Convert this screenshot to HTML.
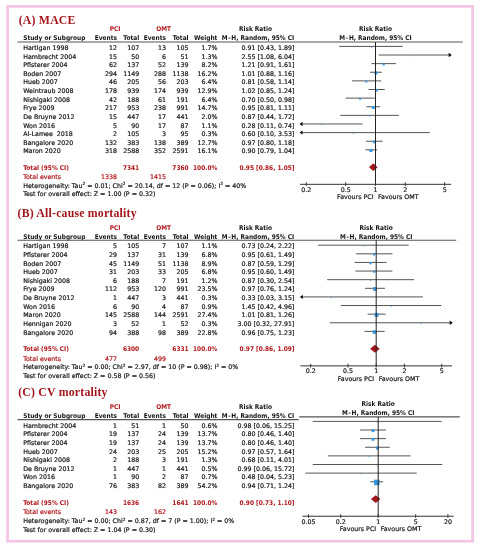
<!DOCTYPE html>
<html lang="en"><head><meta charset="utf-8"><title>Forest plots: PCI vs OMT</title>
<style>
html,body{margin:0;padding:0;background:#fff}
svg{display:block}
text{white-space:pre;fill:currentColor;color:#141414}
.r{font-family:"DejaVu Sans","Liberation Sans",sans-serif;font-size:6.3px;stroke:currentColor;stroke-width:0.2px}
.b{font-family:"DejaVu Sans Condensed","DejaVu Sans","Liberation Sans",sans-serif;font-weight:bold;font-size:6.5px}
.ttl{font-family:"Liberation Serif",serif;font-weight:bold;font-size:11.8px;letter-spacing:0.2px;fill:#a3161c}
.hl{stroke:#555;stroke-width:1.1}
.ci{stroke:#555;stroke-width:1}
.vl{stroke:#222;stroke-width:1}
.ax{stroke:#333;stroke-width:1}
</style></head><body>
<svg width="482" height="550" viewBox="0 0 482 550">
<rect x="0" y="0" width="482" height="550" fill="#fff"/>
<rect x="7.65" y="6.4" width="465" height="534.8" fill="none" stroke="#f2c6e4" stroke-width="2.8"/>
<text class="ttl" x="18.7" y="24.2">(A) MACE</text>
<text class="b" x="115.00" y="30.60" text-anchor="middle" style="color:#b0151b">PCI</text>
<text class="b" x="163.60" y="30.60" text-anchor="middle" style="color:#b0151b">OMT</text>
<text class="b" x="255.50" y="30.60" text-anchor="middle">Risk Ratio</text>
<text class="b" x="23.20" y="40.00">Study or Subgroup</text>
<text class="b" x="117.00" y="40.00" text-anchor="end">Events</text>
<text class="b" x="139.20" y="40.00" text-anchor="end">Total</text>
<text class="b" x="166.00" y="40.00" text-anchor="end">Events</text>
<text class="b" x="188.60" y="40.00" text-anchor="end">Total</text>
<text class="b" x="217.40" y="40.00" text-anchor="end">Weight</text>
<text class="b" x="294.20" y="40.00" text-anchor="end"><tspan letter-spacing="0.7">M-</tspan>H, Random, 95% CI</text>
<text class="b" x="375.50" y="30.60" text-anchor="middle">Risk Ratio</text>
<text class="b" x="375.50" y="40.00" text-anchor="middle"><tspan letter-spacing="0.7">M-</tspan>H, Random, 95% CI</text>
<line x1="17.5" y1="42.0" x2="462.7" y2="42.0" class="hl"/>
<text class="r" x="23.20" y="50.00">Hartigan 1998</text>
<text class="r" x="117.00" y="50.00" text-anchor="end">12</text>
<text class="r" x="139.20" y="50.00" text-anchor="end">107</text>
<text class="r" x="166.00" y="50.00" text-anchor="end">13</text>
<text class="r" x="188.60" y="50.00" text-anchor="end">105</text>
<text class="r" x="217.40" y="50.00" text-anchor="end">1.7%</text>
<text class="r" x="294.50" y="50.00" text-anchor="end">0.91 [0.43, 1.89]</text>
<line x1="339.21" y1="46.40" x2="402.87" y2="46.40" class="ci"/>
<rect x="370.94" y="46.60" width="1.00" height="1.00" fill="#3596e2"/>
<text class="r" x="23.20" y="58.62">Hambrecht 2004</text>
<text class="r" x="117.00" y="58.62" text-anchor="end">15</text>
<text class="r" x="139.20" y="58.62" text-anchor="end">50</text>
<text class="r" x="166.00" y="58.62" text-anchor="end">6</text>
<text class="r" x="188.60" y="58.62" text-anchor="end">51</text>
<text class="r" x="217.40" y="58.62" text-anchor="end">1.3%</text>
<text class="r" x="294.50" y="58.62" text-anchor="end">2.55 [1.08, 6.04]</text>
<line x1="378.81" y1="55.02" x2="451.10" y2="55.02" class="ci"/>
<path d="M451.70 55.02l-3 -2.2v4.4z" fill="#111"/>
<rect x="415.25" y="55.22" width="1.00" height="1.00" fill="#3596e2"/>
<text class="r" x="23.20" y="67.24">Pfisterer 2004</text>
<text class="r" x="117.00" y="67.24" text-anchor="end">62</text>
<text class="r" x="139.20" y="67.24" text-anchor="end">137</text>
<text class="r" x="166.00" y="67.24" text-anchor="end">52</text>
<text class="r" x="188.60" y="67.24" text-anchor="end">139</text>
<text class="r" x="217.40" y="67.24" text-anchor="end">8.2%</text>
<text class="r" x="294.50" y="67.24" text-anchor="end">1.21 [0.91, 1.61]</text>
<line x1="371.44" y1="63.64" x2="395.98" y2="63.64" class="ci"/>
<rect x="382.62" y="63.27" width="2.15" height="2.15" fill="#3596e2"/>
<text class="r" x="23.20" y="75.86">Boden 2007</text>
<text class="r" x="117.00" y="75.86" text-anchor="end">294</text>
<text class="r" x="139.20" y="75.86" text-anchor="end">1149</text>
<text class="r" x="166.00" y="75.86" text-anchor="end">288</text>
<text class="r" x="188.60" y="75.86" text-anchor="end">1138</text>
<text class="r" x="217.40" y="75.86" text-anchor="end">16.2%</text>
<text class="r" x="294.50" y="75.86" text-anchor="end">1.01 [0.88, 1.16]</text>
<line x1="370.00" y1="72.26" x2="381.88" y2="72.26" class="ci"/>
<rect x="374.42" y="71.45" width="3.02" height="3.02" fill="#3596e2"/>
<text class="r" x="23.20" y="84.48">Hueb 2007</text>
<text class="r" x="117.00" y="84.48" text-anchor="end">46</text>
<text class="r" x="139.20" y="84.48" text-anchor="end">205</text>
<text class="r" x="166.00" y="84.48" text-anchor="end">56</text>
<text class="r" x="188.60" y="84.48" text-anchor="end">203</text>
<text class="r" x="217.40" y="84.48" text-anchor="end">6.4%</text>
<text class="r" x="294.50" y="84.48" text-anchor="end">0.81 [0.58, 1.14]</text>
<line x1="352.08" y1="80.88" x2="381.13" y2="80.88" class="ci"/>
<rect x="365.49" y="80.63" width="1.90" height="1.90" fill="#3596e2"/>
<text class="r" x="23.20" y="93.10">Weintraub 2008</text>
<text class="r" x="117.00" y="93.10" text-anchor="end">178</text>
<text class="r" x="139.20" y="93.10" text-anchor="end">939</text>
<text class="r" x="166.00" y="93.10" text-anchor="end">174</text>
<text class="r" x="188.60" y="93.10" text-anchor="end">939</text>
<text class="r" x="217.40" y="93.10" text-anchor="end">12.9%</text>
<text class="r" x="294.50" y="93.10" text-anchor="end">1.02 [0.85, 1.24]</text>
<line x1="368.51" y1="89.50" x2="384.75" y2="89.50" class="ci"/>
<rect x="375.00" y="88.85" width="2.69" height="2.69" fill="#3596e2"/>
<text class="r" x="23.20" y="101.72">Nishigaki 2008</text>
<text class="r" x="117.00" y="101.72" text-anchor="end">42</text>
<text class="r" x="139.20" y="101.72" text-anchor="end">188</text>
<text class="r" x="166.00" y="101.72" text-anchor="end">61</text>
<text class="r" x="188.60" y="101.72" text-anchor="end">191</text>
<text class="r" x="217.40" y="101.72" text-anchor="end">6.4%</text>
<text class="r" x="294.50" y="101.72" text-anchor="end">0.70 [0.50, 0.98]</text>
<line x1="345.69" y1="98.12" x2="374.63" y2="98.12" class="ci"/>
<rect x="359.21" y="97.87" width="1.90" height="1.90" fill="#3596e2"/>
<text class="r" x="23.20" y="110.34">Frye 2009</text>
<text class="r" x="117.00" y="110.34" text-anchor="end">217</text>
<text class="r" x="139.20" y="110.34" text-anchor="end">953</text>
<text class="r" x="166.00" y="110.34" text-anchor="end">238</text>
<text class="r" x="188.60" y="110.34" text-anchor="end">991</text>
<text class="r" x="217.40" y="110.34" text-anchor="end">14.7%</text>
<text class="r" x="294.50" y="110.34" text-anchor="end">0.95 [0.81, 1.11]</text>
<line x1="366.44" y1="106.74" x2="379.99" y2="106.74" class="ci"/>
<rect x="371.86" y="106.00" width="2.88" height="2.88" fill="#3596e2"/>
<text class="r" x="23.20" y="118.96">De Bruyne 2012</text>
<text class="r" x="117.00" y="118.96" text-anchor="end">15</text>
<text class="r" x="139.20" y="118.96" text-anchor="end">447</text>
<text class="r" x="166.00" y="118.96" text-anchor="end">17</text>
<text class="r" x="188.60" y="118.96" text-anchor="end">441</text>
<text class="r" x="217.40" y="118.96" text-anchor="end">2.0%</text>
<text class="r" x="294.50" y="118.96" text-anchor="end">0.87 [0.44, 1.72]</text>
<line x1="340.20" y1="115.36" x2="398.82" y2="115.36" class="ci"/>
<rect x="368.98" y="115.53" width="1.06" height="1.06" fill="#3596e2"/>
<text class="r" x="23.20" y="127.58">Won 2016</text>
<text class="r" x="117.00" y="127.58" text-anchor="end">5</text>
<text class="r" x="139.20" y="127.58" text-anchor="end">90</text>
<text class="r" x="166.00" y="127.58" text-anchor="end">17</text>
<text class="r" x="188.60" y="127.58" text-anchor="end">87</text>
<text class="r" x="217.40" y="127.58" text-anchor="end">1.1%</text>
<text class="r" x="294.50" y="127.58" text-anchor="end">0.28 [0.11, 0.74]</text>
<line x1="300.00" y1="123.98" x2="362.55" y2="123.98" class="ci"/>
<path d="M299.60 123.98l2.9 -2.2v4.4z" fill="#111"/>
<rect x="321.02" y="124.18" width="1.00" height="1.00" fill="#3596e2"/>
<text class="r" x="23.20" y="136.20">Al-Lamee  2018</text>
<text class="r" x="117.00" y="136.20" text-anchor="end">2</text>
<text class="r" x="139.20" y="136.20" text-anchor="end">105</text>
<text class="r" x="166.00" y="136.20" text-anchor="end">3</text>
<text class="r" x="188.60" y="136.20" text-anchor="end">95</text>
<text class="r" x="217.40" y="136.20" text-anchor="end">0.3%</text>
<text class="r" x="294.50" y="136.20" text-anchor="end">0.60 [0.10, 3.53]</text>
<line x1="300.00" y1="132.60" x2="429.74" y2="132.60" class="ci"/>
<path d="M299.60 132.60l2.9 -2.2v4.4z" fill="#111"/>
<rect x="353.03" y="132.80" width="1.00" height="1.00" fill="#3596e2"/>
<text class="r" x="23.20" y="144.82">Bangalore 2020</text>
<text class="r" x="117.00" y="144.82" text-anchor="end">132</text>
<text class="r" x="139.20" y="144.82" text-anchor="end">383</text>
<text class="r" x="166.00" y="144.82" text-anchor="end">138</text>
<text class="r" x="188.60" y="144.82" text-anchor="end">389</text>
<text class="r" x="217.40" y="144.82" text-anchor="end">12.7%</text>
<text class="r" x="294.50" y="144.82" text-anchor="end">0.97 [0.80, 1.18]</text>
<line x1="365.90" y1="141.22" x2="382.62" y2="141.22" class="ci"/>
<rect x="372.85" y="140.58" width="2.67" height="2.67" fill="#3596e2"/>
<text class="r" x="23.20" y="153.44">Maron 2020</text>
<text class="r" x="117.00" y="153.44" text-anchor="end">318</text>
<text class="r" x="139.20" y="153.44" text-anchor="end">2588</text>
<text class="r" x="166.00" y="153.44" text-anchor="end">352</text>
<text class="r" x="188.60" y="153.44" text-anchor="end">2591</text>
<text class="r" x="217.40" y="153.44" text-anchor="end">16.1%</text>
<text class="r" x="294.50" y="153.44" text-anchor="end">0.90 [0.79, 1.04]</text>
<line x1="365.36" y1="149.84" x2="377.19" y2="149.84" class="ci"/>
<rect x="369.46" y="149.04" width="3.01" height="3.01" fill="#3596e2"/>
<text class="b" x="23.20" y="170.18" style="color:#b0151b">Total (95% CI)</text>
<text class="b" x="139.20" y="170.18" text-anchor="end" style="color:#b0151b">7341</text>
<text class="b" x="188.60" y="170.18" text-anchor="end" style="color:#b0151b">7360</text>
<text class="b" x="217.40" y="170.18" text-anchor="end" style="color:#b0151b">100.0%</text>
<text class="b" x="294.50" y="170.18" text-anchor="end" style="color:#b0151b">0.95 [0.86, 1.05]</text>
<text class="r" x="23.20" y="179.00" style="color:#b0151b">Total events</text>
<text class="r" x="117.00" y="179.00" text-anchor="end" style="color:#b0151b">1338</text>
<text class="r" x="166.00" y="179.00" text-anchor="end" style="color:#b0151b">1415</text>
<text class="r" x="23.20" y="187.62">Heterogeneity: Tau<tspan dy="-2.4" font-size="4.3">2</tspan><tspan dy="2.4"> = 0.01; Chi</tspan><tspan dy="-2.4" font-size="4.3">2</tspan><tspan dy="2.4"> = 20.14, df = 12 (P = 0.06); I</tspan><tspan dy="-2.4" font-size="4.3">2</tspan><tspan dy="2.4"> = 40%</tspan></text>
<text class="r" x="23.20" y="196.24">Test for overall effect: Z = 1.00 (P = 0.32)</text>
<path d="M369.01 167.18L373.29 163.28L377.60 167.18L373.29 171.08z" fill="#a3171c"/>
<line x1="375.5" y1="42.0" x2="375.5" y2="184.32" class="vl"/>
<line x1="300.0" y1="184.32" x2="451.1" y2="184.32" class="ax"/>
<line x1="306.29" y1="182.32" x2="306.29" y2="185.92" class="ax"/>
<text class="r" x="306.29" y="191.82" text-anchor="middle">0.2</text>
<line x1="345.69" y1="182.32" x2="345.69" y2="185.92" class="ax"/>
<text class="r" x="345.69" y="191.82" text-anchor="middle">0.5</text>
<line x1="375.50" y1="182.32" x2="375.50" y2="185.92" class="ax"/>
<text class="r" x="375.50" y="191.82" text-anchor="middle">1</text>
<line x1="405.31" y1="182.32" x2="405.31" y2="185.92" class="ax"/>
<text class="r" x="405.31" y="191.82" text-anchor="middle">2</text>
<line x1="444.71" y1="182.32" x2="444.71" y2="185.92" class="ax"/>
<text class="r" x="444.71" y="191.82" text-anchor="middle">5</text>
<text class="r" x="373.50" y="199.12" text-anchor="end">Favours PCI</text>
<text class="r" x="378.00" y="199.12">Favours OMT</text>
<text class="ttl" x="17.5" y="216.9">(B) All-cause mortality</text>
<text class="b" x="115.00" y="230.00" text-anchor="middle" style="color:#b0151b">PCI</text>
<text class="b" x="163.60" y="230.00" text-anchor="middle" style="color:#b0151b">OMT</text>
<text class="b" x="255.50" y="230.00" text-anchor="middle">Risk Ratio</text>
<text class="b" x="23.20" y="239.00">Study or Subgroup</text>
<text class="b" x="117.00" y="239.00" text-anchor="end">Events</text>
<text class="b" x="139.20" y="239.00" text-anchor="end">Total</text>
<text class="b" x="166.00" y="239.00" text-anchor="end">Events</text>
<text class="b" x="188.60" y="239.00" text-anchor="end">Total</text>
<text class="b" x="217.40" y="239.00" text-anchor="end">Weight</text>
<text class="b" x="294.20" y="239.00" text-anchor="end"><tspan letter-spacing="0.7">M-</tspan>H, Random, 95% CI</text>
<text class="b" x="376.20" y="230.00" text-anchor="middle">Risk Ratio</text>
<text class="b" x="376.20" y="239.00" text-anchor="middle"><tspan letter-spacing="0.7">M-</tspan>H, Random, 95% CI</text>
<line x1="17.5" y1="240.3" x2="456.2" y2="240.3" class="hl"/>
<text class="r" x="23.20" y="248.30">Hartigan 1998</text>
<text class="r" x="117.00" y="248.30" text-anchor="end">5</text>
<text class="r" x="139.20" y="248.30" text-anchor="end">105</text>
<text class="r" x="166.00" y="248.30" text-anchor="end">7</text>
<text class="r" x="188.60" y="248.30" text-anchor="end">107</text>
<text class="r" x="217.40" y="248.30" text-anchor="end">1.1%</text>
<text class="r" x="294.50" y="248.30" text-anchor="end">0.73 [0.24, 2.22]</text>
<line x1="318.12" y1="245.20" x2="408.66" y2="245.20" class="ci"/>
<rect x="362.89" y="245.40" width="1.00" height="1.00" fill="#3596e2"/>
<text class="r" x="23.20" y="256.92">Pfisterer 2004</text>
<text class="r" x="117.00" y="256.92" text-anchor="end">29</text>
<text class="r" x="139.20" y="256.92" text-anchor="end">137</text>
<text class="r" x="166.00" y="256.92" text-anchor="end">31</text>
<text class="r" x="188.60" y="256.92" text-anchor="end">139</text>
<text class="r" x="217.40" y="256.92" text-anchor="end">6.8%</text>
<text class="r" x="294.50" y="256.92" text-anchor="end">0.95 [0.61, 1.49]</text>
<line x1="356.08" y1="253.82" x2="392.43" y2="253.82" class="ci"/>
<rect x="373.13" y="253.54" width="1.96" height="1.96" fill="#3596e2"/>
<text class="r" x="23.20" y="265.54">Boden 2007</text>
<text class="r" x="117.00" y="265.54" text-anchor="end">45</text>
<text class="r" x="139.20" y="265.54" text-anchor="end">1149</text>
<text class="r" x="166.00" y="265.54" text-anchor="end">51</text>
<text class="r" x="188.60" y="265.54" text-anchor="end">1138</text>
<text class="r" x="217.40" y="265.54" text-anchor="end">8.9%</text>
<text class="r" x="294.50" y="265.54" text-anchor="end">0.87 [0.59, 1.29]</text>
<line x1="354.73" y1="262.44" x2="386.56" y2="262.44" class="ci"/>
<rect x="369.41" y="262.02" width="2.24" height="2.24" fill="#3596e2"/>
<text class="r" x="23.20" y="274.16">Hueb 2007</text>
<text class="r" x="117.00" y="274.16" text-anchor="end">31</text>
<text class="r" x="139.20" y="274.16" text-anchor="end">203</text>
<text class="r" x="166.00" y="274.16" text-anchor="end">33</text>
<text class="r" x="188.60" y="274.16" text-anchor="end">205</text>
<text class="r" x="217.40" y="274.16" text-anchor="end">6.8%</text>
<text class="r" x="294.50" y="274.16" text-anchor="end">0.95 [0.60, 1.49]</text>
<line x1="355.41" y1="271.06" x2="392.43" y2="271.06" class="ci"/>
<rect x="373.13" y="270.78" width="1.96" height="1.96" fill="#3596e2"/>
<text class="r" x="23.20" y="282.78">Nishigaki 2008</text>
<text class="r" x="117.00" y="282.78" text-anchor="end">6</text>
<text class="r" x="139.20" y="282.78" text-anchor="end">188</text>
<text class="r" x="166.00" y="282.78" text-anchor="end">7</text>
<text class="r" x="188.60" y="282.78" text-anchor="end">191</text>
<text class="r" x="217.40" y="282.78" text-anchor="end">1.2%</text>
<text class="r" x="294.50" y="282.78" text-anchor="end">0.87 [0.30, 2.54]</text>
<line x1="327.20" y1="279.68" x2="414.14" y2="279.68" class="ci"/>
<rect x="370.03" y="279.88" width="1.00" height="1.00" fill="#3596e2"/>
<text class="r" x="23.20" y="291.40">Frye 2009</text>
<text class="r" x="117.00" y="291.40" text-anchor="end">112</text>
<text class="r" x="139.20" y="291.40" text-anchor="end">953</text>
<text class="r" x="166.00" y="291.40" text-anchor="end">120</text>
<text class="r" x="188.60" y="291.40" text-anchor="end">991</text>
<text class="r" x="217.40" y="291.40" text-anchor="end">23.5%</text>
<text class="r" x="294.50" y="291.40" text-anchor="end">0.97 [0.76, 1.24]</text>
<line x1="365.03" y1="288.30" x2="384.96" y2="288.30" class="ci"/>
<rect x="373.14" y="287.18" width="3.64" height="3.64" fill="#3596e2"/>
<text class="r" x="23.20" y="300.02">De Bruyne 2012</text>
<text class="r" x="117.00" y="300.02" text-anchor="end">1</text>
<text class="r" x="139.20" y="300.02" text-anchor="end">447</text>
<text class="r" x="166.00" y="300.02" text-anchor="end">3</text>
<text class="r" x="188.60" y="300.02" text-anchor="end">441</text>
<text class="r" x="217.40" y="300.02" text-anchor="end">0.3%</text>
<text class="r" x="294.50" y="300.02" text-anchor="end">0.33 [0.03, 3.15]</text>
<line x1="300.40" y1="296.92" x2="422.90" y2="296.92" class="ci"/>
<path d="M300.00 296.92l2.9 -2.2v4.4z" fill="#111"/>
<rect x="330.58" y="297.12" width="1.00" height="1.00" fill="#3596e2"/>
<text class="r" x="23.20" y="308.64">Won 2016</text>
<text class="r" x="117.00" y="308.64" text-anchor="end">6</text>
<text class="r" x="139.20" y="308.64" text-anchor="end">90</text>
<text class="r" x="166.00" y="308.64" text-anchor="end">4</text>
<text class="r" x="188.60" y="308.64" text-anchor="end">87</text>
<text class="r" x="217.40" y="308.64" text-anchor="end">0.9%</text>
<text class="r" x="294.50" y="308.64" text-anchor="end">1.45 [0.42, 4.96]</text>
<line x1="340.89" y1="305.54" x2="441.38" y2="305.54" class="ci"/>
<rect x="390.82" y="305.74" width="1.00" height="1.00" fill="#3596e2"/>
<text class="r" x="23.20" y="317.26">Maron 2020</text>
<text class="r" x="117.00" y="317.26" text-anchor="end">145</text>
<text class="r" x="139.20" y="317.26" text-anchor="end">2588</text>
<text class="r" x="166.00" y="317.26" text-anchor="end">144</text>
<text class="r" x="188.60" y="317.26" text-anchor="end">2591</text>
<text class="r" x="217.40" y="317.26" text-anchor="end">27.4%</text>
<text class="r" x="294.50" y="317.26" text-anchor="end">1.01 [0.81, 1.26]</text>
<line x1="367.62" y1="314.16" x2="385.61" y2="314.16" class="ci"/>
<rect x="374.64" y="312.90" width="3.93" height="3.93" fill="#3596e2"/>
<text class="r" x="23.20" y="325.88">Hennigan 2020</text>
<text class="r" x="117.00" y="325.88" text-anchor="end">3</text>
<text class="r" x="139.20" y="325.88" text-anchor="end">52</text>
<text class="r" x="166.00" y="325.88" text-anchor="end">1</text>
<text class="r" x="188.60" y="325.88" text-anchor="end">52</text>
<text class="r" x="217.40" y="325.88" text-anchor="end">0.3%</text>
<text class="r" x="294.50" y="325.88" text-anchor="end">3.00 [0.32, 27.91]</text>
<line x1="329.83" y1="322.78" x2="452.10" y2="322.78" class="ci"/>
<path d="M452.70 322.78l-3 -2.2v4.4z" fill="#111"/>
<rect x="420.41" y="322.98" width="1.00" height="1.00" fill="#3596e2"/>
<text class="r" x="23.20" y="334.50">Bangalore 2020</text>
<text class="r" x="117.00" y="334.50" text-anchor="end">94</text>
<text class="r" x="139.20" y="334.50" text-anchor="end">388</text>
<text class="r" x="166.00" y="334.50" text-anchor="end">98</text>
<text class="r" x="188.60" y="334.50" text-anchor="end">389</text>
<text class="r" x="217.40" y="334.50" text-anchor="end">22.8%</text>
<text class="r" x="294.50" y="334.50" text-anchor="end">0.96 [0.75, 1.23]</text>
<line x1="364.49" y1="331.40" x2="384.63" y2="331.40" class="ci"/>
<rect x="372.75" y="330.31" width="3.58" height="3.58" fill="#3596e2"/>
<text class="b" x="23.20" y="351.24" style="color:#b0151b">Total (95% CI)</text>
<text class="b" x="139.20" y="351.24" text-anchor="end" style="color:#b0151b">6300</text>
<text class="b" x="188.60" y="351.24" text-anchor="end" style="color:#b0151b">6331</text>
<text class="b" x="217.40" y="351.24" text-anchor="end" style="color:#b0151b">100.0%</text>
<text class="b" x="294.50" y="351.24" text-anchor="end" style="color:#b0151b">0.97 [0.86, 1.09]</text>
<text class="r" x="23.20" y="360.86" style="color:#b0151b">Total events</text>
<text class="r" x="117.00" y="360.86" text-anchor="end" style="color:#b0151b">477</text>
<text class="r" x="166.00" y="360.86" text-anchor="end" style="color:#b0151b">499</text>
<text class="r" x="23.20" y="369.48">Heterogeneity: Tau<tspan dy="-2.4" font-size="4.3">2</tspan><tspan dy="2.4"> = 0.00; Chi</tspan><tspan dy="-2.4" font-size="4.3">2</tspan><tspan dy="2.4"> = 2.97, df = 10 (P = 0.98); I</tspan><tspan dy="-2.4" font-size="4.3">2</tspan><tspan dy="2.4"> = 0%</tspan></text>
<text class="r" x="23.20" y="378.10">Test for overall effect: Z = 0.58 (P = 0.56)</text>
<path d="M370.06 348.74L374.96 344.84L379.71 348.74L374.96 352.64z" fill="#a3171c"/>
<line x1="376.2" y1="240.3" x2="376.2" y2="365.88" class="vl"/>
<line x1="300.4" y1="365.88" x2="452.1" y2="365.88" class="ax"/>
<line x1="310.70" y1="363.88" x2="310.70" y2="367.48" class="ax"/>
<text class="r" x="310.70" y="373.38" text-anchor="middle">0.2</text>
<line x1="347.99" y1="363.88" x2="347.99" y2="367.48" class="ax"/>
<text class="r" x="347.99" y="373.38" text-anchor="middle">0.5</text>
<line x1="376.20" y1="363.88" x2="376.20" y2="367.48" class="ax"/>
<text class="r" x="376.20" y="373.38" text-anchor="middle">1</text>
<line x1="404.41" y1="363.88" x2="404.41" y2="367.48" class="ax"/>
<text class="r" x="404.41" y="373.38" text-anchor="middle">2</text>
<line x1="441.70" y1="363.88" x2="441.70" y2="367.48" class="ax"/>
<text class="r" x="441.70" y="373.38" text-anchor="middle">5</text>
<text class="r" x="374.20" y="380.68" text-anchor="end">Favours PCI</text>
<text class="r" x="378.70" y="380.68">Favours OMT</text>
<text class="ttl" x="18.2" y="395.7">(C) CV mortality</text>
<text class="b" x="115.00" y="408.60" text-anchor="middle" style="color:#b0151b">PCI</text>
<text class="b" x="163.60" y="408.60" text-anchor="middle" style="color:#b0151b">OMT</text>
<text class="b" x="255.50" y="408.60" text-anchor="middle">Risk Ratio</text>
<text class="b" x="23.20" y="417.60">Study or Subgroup</text>
<text class="b" x="117.00" y="417.60" text-anchor="end">Events</text>
<text class="b" x="139.20" y="417.60" text-anchor="end">Total</text>
<text class="b" x="166.00" y="417.60" text-anchor="end">Events</text>
<text class="b" x="188.60" y="417.60" text-anchor="end">Total</text>
<text class="b" x="217.40" y="417.60" text-anchor="end">Weight</text>
<text class="b" x="294.20" y="417.60" text-anchor="end"><tspan letter-spacing="0.7">M-</tspan>H, Random, 95% CI</text>
<text class="b" x="378.20" y="405.90" text-anchor="middle">Risk Ratio</text>
<text class="b" x="378.20" y="414.90" text-anchor="middle"><tspan letter-spacing="0.7">M-</tspan>H, Random, 95% CI</text>
<line x1="17.5" y1="419.6" x2="298.7" y2="419.6" class="hl"/>
<line x1="299.2" y1="416.90000000000003" x2="459.8" y2="416.90000000000003" class="hl"/>
<text class="r" x="23.20" y="427.70">Hambrecht 2004</text>
<text class="r" x="117.00" y="427.70" text-anchor="end">1</text>
<text class="r" x="139.20" y="427.70" text-anchor="end">51</text>
<text class="r" x="166.00" y="427.70" text-anchor="end">1</text>
<text class="r" x="188.60" y="427.70" text-anchor="end">50</text>
<text class="r" x="217.40" y="427.70" text-anchor="end">0.6%</text>
<text class="r" x="294.50" y="427.70" text-anchor="end">0.98 [0.06, 15.25]</text>
<line x1="312.73" y1="421.40" x2="441.60" y2="421.40" class="ci"/>
<rect x="377.23" y="421.60" width="1.00" height="1.00" fill="#3596e2"/>
<text class="r" x="23.20" y="436.32">Pfisterer 2004</text>
<text class="r" x="117.00" y="436.32" text-anchor="end">19</text>
<text class="r" x="139.20" y="436.32" text-anchor="end">137</text>
<text class="r" x="166.00" y="436.32" text-anchor="end">24</text>
<text class="r" x="188.60" y="436.32" text-anchor="end">139</text>
<text class="r" x="217.40" y="436.32" text-anchor="end">13.7%</text>
<text class="r" x="294.50" y="436.32" text-anchor="end">0.80 [0.46, 1.40]</text>
<line x1="360.13" y1="430.02" x2="386.03" y2="430.02" class="ci"/>
<rect x="371.62" y="429.33" width="2.78" height="2.78" fill="#3596e2"/>
<text class="r" x="23.20" y="444.94">Pfisterer 2004</text>
<text class="r" x="117.00" y="444.94" text-anchor="end">19</text>
<text class="r" x="139.20" y="444.94" text-anchor="end">137</text>
<text class="r" x="166.00" y="444.94" text-anchor="end">24</text>
<text class="r" x="188.60" y="444.94" text-anchor="end">139</text>
<text class="r" x="217.40" y="444.94" text-anchor="end">13.7%</text>
<text class="r" x="294.50" y="444.94" text-anchor="end">0.80 [0.46, 1.40]</text>
<line x1="360.13" y1="438.64" x2="386.03" y2="438.64" class="ci"/>
<rect x="371.62" y="437.95" width="2.78" height="2.78" fill="#3596e2"/>
<text class="r" x="23.20" y="453.56">Hueb 2007</text>
<text class="r" x="117.00" y="453.56" text-anchor="end">24</text>
<text class="r" x="139.20" y="453.56" text-anchor="end">203</text>
<text class="r" x="166.00" y="453.56" text-anchor="end">25</text>
<text class="r" x="188.60" y="453.56" text-anchor="end">205</text>
<text class="r" x="217.40" y="453.56" text-anchor="end">15.2%</text>
<text class="r" x="294.50" y="453.56" text-anchor="end">0.97 [0.57, 1.64]</text>
<line x1="365.12" y1="447.26" x2="389.71" y2="447.26" class="ci"/>
<rect x="376.03" y="446.50" width="2.92" height="2.92" fill="#3596e2"/>
<text class="r" x="23.20" y="462.18">Nishigaki 2008</text>
<text class="r" x="117.00" y="462.18" text-anchor="end">2</text>
<text class="r" x="139.20" y="462.18" text-anchor="end">188</text>
<text class="r" x="166.00" y="462.18" text-anchor="end">3</text>
<text class="r" x="188.60" y="462.18" text-anchor="end">191</text>
<text class="r" x="217.40" y="462.18" text-anchor="end">1.3%</text>
<text class="r" x="294.50" y="462.18" text-anchor="end">0.68 [0.11, 4.01]</text>
<line x1="327.87" y1="455.88" x2="410.52" y2="455.88" class="ci"/>
<rect x="368.73" y="456.08" width="1.00" height="1.00" fill="#3596e2"/>
<text class="r" x="23.20" y="470.80">De Bruyne 2012</text>
<text class="r" x="117.00" y="470.80" text-anchor="end">1</text>
<text class="r" x="139.20" y="470.80" text-anchor="end">447</text>
<text class="r" x="166.00" y="470.80" text-anchor="end">1</text>
<text class="r" x="188.60" y="470.80" text-anchor="end">441</text>
<text class="r" x="217.40" y="470.80" text-anchor="end">0.5%</text>
<text class="r" x="294.50" y="470.80" text-anchor="end">0.99 [0.06, 15.72]</text>
<line x1="312.73" y1="464.50" x2="442.31" y2="464.50" class="ci"/>
<rect x="377.47" y="464.70" width="1.00" height="1.00" fill="#3596e2"/>
<text class="r" x="23.20" y="479.42">Won 2016</text>
<text class="r" x="117.00" y="479.42" text-anchor="end">1</text>
<text class="r" x="139.20" y="479.42" text-anchor="end">90</text>
<text class="r" x="166.00" y="479.42" text-anchor="end">2</text>
<text class="r" x="188.60" y="479.42" text-anchor="end">87</text>
<text class="r" x="217.40" y="479.42" text-anchor="end">0.7%</text>
<text class="r" x="294.50" y="479.42" text-anchor="end">0.48 [0.04, 5.23]</text>
<line x1="305.51" y1="473.12" x2="416.70" y2="473.12" class="ci"/>
<rect x="360.62" y="473.32" width="1.00" height="1.00" fill="#3596e2"/>
<text class="r" x="23.20" y="488.04">Bangalore 2020</text>
<text class="r" x="117.00" y="488.04" text-anchor="end">76</text>
<text class="r" x="139.20" y="488.04" text-anchor="end">383</text>
<text class="r" x="166.00" y="488.04" text-anchor="end">82</text>
<text class="r" x="188.60" y="488.04" text-anchor="end">389</text>
<text class="r" x="217.40" y="488.04" text-anchor="end">54.2%</text>
<text class="r" x="294.50" y="488.04" text-anchor="end">0.94 [0.71, 1.24]</text>
<line x1="370.23" y1="481.74" x2="383.21" y2="481.74" class="ci"/>
<rect x="374.00" y="479.68" width="5.52" height="5.52" fill="#3596e2"/>
<text class="b" x="23.20" y="504.78" style="color:#b0151b">Total (95% CI)</text>
<text class="b" x="139.20" y="504.78" text-anchor="end" style="color:#b0151b">1636</text>
<text class="b" x="188.60" y="504.78" text-anchor="end" style="color:#b0151b">1641</text>
<text class="b" x="217.40" y="504.78" text-anchor="end" style="color:#b0151b">100.0%</text>
<text class="b" x="294.50" y="504.78" text-anchor="end" style="color:#b0151b">0.90 [0.73, 1.10]</text>
<text class="r" x="23.20" y="514.40" style="color:#b0151b">Total events</text>
<text class="r" x="117.00" y="514.40" text-anchor="end" style="color:#b0151b">143</text>
<text class="r" x="166.00" y="514.40" text-anchor="end" style="color:#b0151b">162</text>
<text class="r" x="23.20" y="523.02">Heterogeneity: Tau<tspan dy="-2.4" font-size="4.3">2</tspan><tspan dy="2.4"> = 0.00; Chi</tspan><tspan dy="-2.4" font-size="4.3">2</tspan><tspan dy="2.4"> = 0.87, df = 7 (P = 1.00); I</tspan><tspan dy="-2.4" font-size="4.3">2</tspan><tspan dy="2.4"> = 0%</tspan></text>
<text class="r" x="23.20" y="531.64">Test for overall effect: Z = 1.04 (P = 0.30)</text>
<path d="M370.88 499.08L375.75 495.18L380.42 499.08L375.75 502.98z" fill="#a3171c"/>
<line x1="378.2" y1="416.90000000000003" x2="378.2" y2="516.22" class="vl"/>
<line x1="302.4" y1="516.22" x2="453.7" y2="516.22" class="ax"/>
<line x1="308.49" y1="514.22" x2="308.49" y2="517.82" class="ax"/>
<text class="r" x="308.49" y="523.72" text-anchor="middle">0.05</text>
<line x1="340.75" y1="514.22" x2="340.75" y2="517.82" class="ax"/>
<text class="r" x="340.75" y="523.72" text-anchor="middle">0.2</text>
<line x1="378.20" y1="514.22" x2="378.20" y2="517.82" class="ax"/>
<text class="r" x="378.20" y="523.72" text-anchor="middle">1</text>
<line x1="415.65" y1="514.22" x2="415.65" y2="517.82" class="ax"/>
<text class="r" x="415.65" y="523.72" text-anchor="middle">5</text>
<line x1="447.91" y1="514.22" x2="447.91" y2="517.82" class="ax"/>
<text class="r" x="447.91" y="523.72" text-anchor="middle">20</text>
<text class="r" x="376.20" y="531.02" text-anchor="end">Favours PCI</text>
<text class="r" x="380.70" y="531.02">Favours OMT</text>
</svg>
</body></html>
